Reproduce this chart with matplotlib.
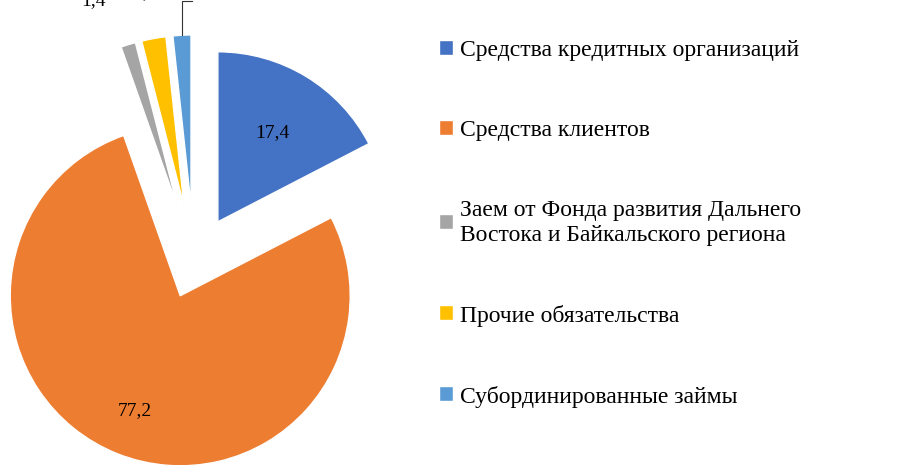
import numpy as np
import matplotlib.pyplot as plt

labels = ['Средства кредитных организаций', 'Средства клиентов',
          'Заем от Фонда развития Дальнего\nВостока и Байкальского региона',
          'Прочие обязательства', 'Субординированные займы']
values = [17.4, 77.2, 1.4, 2.3, 1.7]
colors = ['#4472C4', '#ED7D31', '#A5A5A5', '#FFC000', '#5B9BD5']
explode = [0.27, 0.22, 0.33, 0.33, 0.33]

plt.rcParams['font.family'] = ['Liberation Serif', 'DejaVu Serif']

fig = plt.figure(figsize=(8.98, 4.77), dpi=100)
ax = fig.add_axes([0, 0, 1, 1])
R = 170.0
cx, cy = 194, 262

wedges, _ = ax.pie(values, colors=colors, explode=explode, startangle=90,
                   counterclock=False, wedgeprops=dict(edgecolor='white', linewidth=1))
ax.set_xlim(-cx / R, (898 - cx) / R)
ax.set_ylim(-(477 - cy) / R, cy / R)
ax.set_aspect('equal')
ax.axis('off')

lab_r = [0.62, 0.72, 1.28, 1.28, 1.3]
for w, v, e, r in zip(wedges, values, explode, lab_r):
    ang = np.deg2rad((w.theta1 + w.theta2) / 2)
    x = (e + r) * np.cos(ang)
    y = (e + r) * np.sin(ang)
    txt = f'{v:.1f}'.replace('.', ',')
    if v == 1.7:
        x += 0.12
    if v == 1.4:
        x -= 0.12
    ax.text(x, y, txt, ha='center', va='center', fontsize=14)

# leader line for the last small slice
w = wedges[4]
ang = np.deg2rad((w.theta1 + w.theta2) / 2)
x0, y0 = 1.33 * np.cos(ang), 1.33 * np.sin(ang)
ax.plot([x0, x0, x0 + 0.06], [y0, y0 + 0.2, y0 + 0.2], color='#333333', lw=0.8)

fig.legend(wedges, labels, loc='upper left', bbox_to_anchor=(0.465, 0.96),
           frameon=False, fontsize=17, labelspacing=2.5, handlelength=0.6,
           handleheight=0.6, handletextpad=0.3)

plt.savefig('out.png', dpi=100)
